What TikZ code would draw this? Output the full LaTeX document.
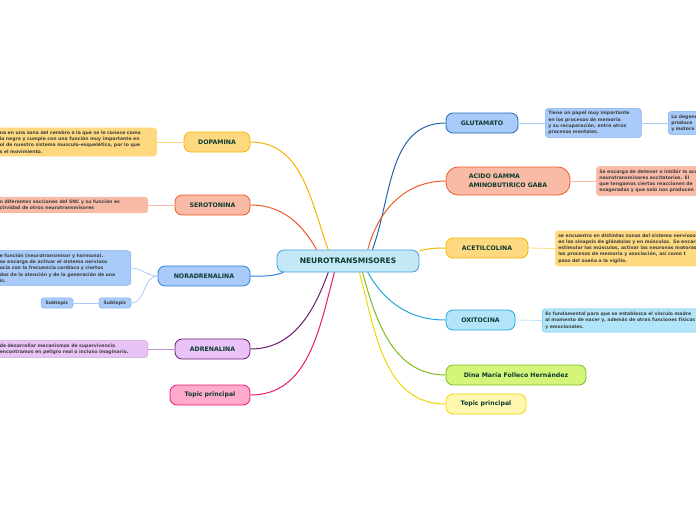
\documentclass[tikz,border=0pt]{standalone}
\usepackage{fontspec}
\setmainfont{DejaVu Sans}
\usetikzlibrary{positioning}
\definecolor{cenfill}{HTML}{C5E8F7}\definecolor{cendraw}{HTML}{3AA0D8}
\definecolor{yelfill}{HTML}{FFD980}\definecolor{yeldraw}{HTML}{F5B400}
\definecolor{orafill}{HTML}{F9BBA6}\definecolor{oradraw}{HTML}{F05A28}
\definecolor{blufill}{HTML}{A8CBFA}\definecolor{bludraw}{HTML}{2B7FD8}
\definecolor{purfill}{HTML}{E9C2F7}\definecolor{purdraw}{HTML}{6A1B6E}
\definecolor{pinfill}{HTML}{FFAACC}\definecolor{pindraw}{HTML}{E8176F}
\definecolor{cyafill}{HTML}{B3E5FA}\definecolor{cyadraw}{HTML}{1FA8E0}
\definecolor{grefill}{HTML}{D4F57A}\definecolor{gredraw}{HTML}{7DBB1E}
\definecolor{lemfill}{HTML}{FFF6B0}\definecolor{lemdraw}{HTML}{F2D600}
\definecolor{txt}{HTML}{0B3B2E}
\begin{document}
\begin{tikzpicture}[x=1pt,y=-1pt,
    topic/.style={
        rectangle,
        rounded corners=7pt,
        line width=0.8pt,
        inner sep=0pt,
        minimum height=20pt,
        align=left,
        font=\fontsize{6.2}{8}\selectfont\bfseries,
        text=txt
    },
    desc/.style={
        rectangle,
        rounded corners=3pt,
        line width=0.5pt,
        inner sep=3pt,
        align=left,
        font=\fontsize{4.6}{6.2}\selectfont\bfseries,
        text=black!75
    },
    branch/.style={line width=1pt},
    twig/.style={line width=0.8pt}
]
\useasboundingbox (0,0) rectangle (696,520);
\clip (0,0) rectangle (696,520);

% central topic
\node[topic, fill=cenfill, draw=cendraw, minimum width=142pt, minimum height=22pt,
    font=\fontsize{7.5}{9}\selectfont\bfseries] (c) at (348,261) {NEUROTRANSMISORES};

% left branches
\node[topic, fill=yelfill, draw=yeldraw, minimum width=66pt] (dop) at (217,142) {DOPAMINA};
\node[topic, fill=orafill, draw=oradraw, minimum width=75pt] (ser) at (212.5,205) {SEROTONINA};
\node[topic, fill=blufill, draw=bludraw, minimum width=92pt] (nor) at (204,276) {NORADRENALINA};
\node[topic, fill=purfill, draw=purdraw, minimum width=75pt] (adr) at (212.5,349) {ADRENALINA};
\node[topic, fill=pinfill, draw=pindraw, minimum width=80pt] (tpl) at (210,395) {Topic principal};

% right branches
\node[topic, fill=blufill, draw=bludraw!80!black, minimum width=72pt] (glu) at (482,123) {GLUTAMATO};
\node[topic, fill=orafill, draw=oradraw, minimum width=124pt, minimum height=28pt,
    rounded corners=12pt, font=\fontsize{6.2}{9}\selectfont\bfseries] (gab) at (508,181) {ACIDO GAMMA\\AMINOBUTIRICO GABA};
\node[topic, fill=yelfill, draw=yeldraw, minimum width=82pt] (ace) at (487,248) {ACETILCOLINA};
\node[topic, fill=cyafill, draw=cyadraw, minimum width=69pt] (oxi) at (480.5,320) {OXITOCINA};
\node[topic, fill=grefill, draw=gredraw, minimum width=140pt] (din) at (516,375) {Dina María Folleco Hernández};
\node[topic, fill=lemfill, draw=lemdraw, minimum width=80pt] (tpr) at (486,404) {Topic principal};

% descriptions
\node[desc, fill=yelfill, draw=yelfill, anchor=east, text width=154pt] (ddop) at (157,142)
    {na en una zona del cerebro a la que se le conoce como\\ia negra y cumple con una función muy importante en\\ol de nuestro sistema musculo-esquelético, por lo que\\s el movimiento.};
\node[desc, fill=orafill, draw=orafill, anchor=east, text width=145pt] (dser) at (148,205)
    {n diferentes secciones del SNC y su función es\\ctividad de otros neurotransmisores};
\node[desc, fill=blufill, draw=bludraw!60, anchor=east, text width=128pt] (dnor) at (131,268)
    {e función (neurotransmisor y hormona).\\se encarga de activar el sistema nervioso\\ocia con la frecuencia cardíaca y ciertos\\dos de la atención y de la generación de una\\is.};
\node[desc, fill=blufill, draw=bludraw!60, minimum width=32pt, align=center] (sub1) at (115,303) {Subtopic};
\node[desc, fill=blufill, draw=bludraw!60, minimum width=32pt, align=center] (sub2) at (57,303) {Subtopic};
\node[desc, fill=purfill, draw=purdraw!40, anchor=east, text width=145pt] (dadr) at (148,349)
    {de desarrollar mecanismos de supervivencia\\ encontramos en peligro real o incluso imaginario.};
\node[desc, fill=blufill, draw=bludraw!60, anchor=west, text width=90pt] (dglu) at (545,123)
    {Tiene un papel muy importante\\en los procesos de memoria\\y su recuperación, entre otros\\procesos mentales.};
\node[desc, fill=blufill, draw=bludraw!60, anchor=west, text width=90pt] (dglu2) at (668,123)
    {La degeneración\\produce\\y motora};
\node[desc, fill=orafill, draw=orafill, anchor=west, text width=140pt] (dgab) at (596,181)
    {Se encarga de detener o inhibir la acción de\\neurotransmisores excitatorios. El\\que tengamos ciertas reacciones de\\exageradas y que solo nos producen};
\node[desc, fill=yelfill, draw=yelfill, anchor=west, text width=160pt] (dace) at (555,248.5)
    {se encuentra en distintas zonas del sistema nervioso\\en las sinapsis de glándulas y en músculos. Se encarga\\estimular los músculos, activar las neuronas motoras\\los procesos de memoria y asociación, así como t\\paso del sueño a la vigilia.};
\node[desc, fill=cyafill, draw=cyadraw!70, anchor=west, text width=170pt] (doxi) at (542,320.5)
    {Es fundamental para que se establezca el vínculo madre\\al momento de nacer y, además de otras funciones físicas\\y emocionales.};

% main connectors
\draw[branch, yeldraw] (c.150) to[out=110, in=0] (dop.east);
\draw[branch, oradraw] (c.160) to[out=120, in=0] (ser.east);
\draw[branch, bludraw] (c.190) to[out=200, in=0] (nor.east);
\draw[branch, purdraw] (c.-150) to[out=250, in=0] (adr.east);
\draw[branch, pindraw] (c.-140) to[out=255, in=0] (tpl.east);
\draw[branch, bludraw!80!black] (c.25) to[out=70, in=180] (glu.west);
\draw[branch, oradraw] (c.30) to[out=75, in=180] (gab.west);
\draw[branch, yeldraw] (c.8) to[out=15, in=180] (ace.west);
\draw[branch, cyadraw] (c.-30) to[out=-60, in=180] (oxi.west);
\draw[branch, gredraw] (c.-38) to[out=-75, in=180] (din.west);
\draw[branch, lemdraw] (c.-45) to[out=-75, in=180] (tpr.west);

% description connectors
\draw[twig, yelfill] (dop.west) -- (ddop.east);
\draw[twig, orafill] (ser.west) -- (dser.east);
\draw[twig, blufill] (nor.west) to[out=180, in=0] (dnor.east);
\draw[twig, blufill] (nor.west) to[out=180, in=0] (sub1.east);
\draw[twig, blufill] (sub1.west) -- (sub2.east);
\draw[twig, purfill!70!purdraw] (adr.west) -- (dadr.east);
\draw[twig, blufill] (glu.east) -- (dglu.west);
\draw[twig, blufill] (dglu.east) -- (dglu2.west);
\draw[twig, orafill] (gab.east) -- (dgab.west);
\draw[twig, yelfill] (ace.east) -- (dace.west);
\draw[twig, cyafill] (oxi.east) -- (doxi.west);
\end{tikzpicture}
\end{document}
